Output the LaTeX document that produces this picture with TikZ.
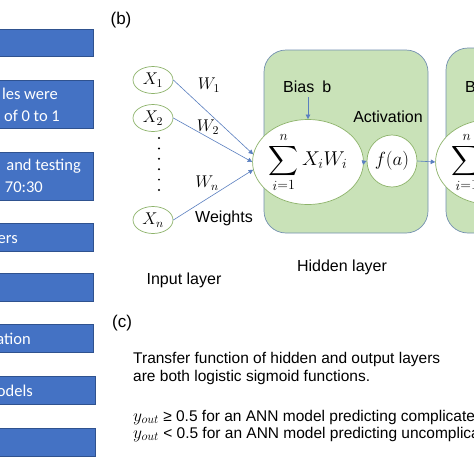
\documentclass[tikz,border=0pt]{standalone}
\usepackage{fix-cm}
\usepackage{amsmath}
\usepackage{fontspec}
\setmainfont{Liberation Sans}
\newfontfamily\calib{Carlito}
\usetikzlibrary{arrows.meta,shapes.geometric}
\definecolor{boxblue}{HTML}{4472C4}
\definecolor{boxedge}{HTML}{2F528F}
\definecolor{layergreen}{HTML}{C9E2B8}
\definecolor{layeredge}{HTML}{7390B0}
\definecolor{ellgreen}{HTML}{8DB36A}
\definecolor{arrowblue}{HTML}{5A7FC0}
\begin{document}
\begin{tikzpicture}[x=1pt,y=-1pt,
  stepbox/.style={fill=boxblue, draw=boxedge, line width=0.8pt},
  boxtext/.style={text=white, font=\calib\fontsize{16.5}{20}\selectfont, inner sep=0pt},
  layer/.style={fill=layergreen, draw=layeredge, line width=0.7pt, rounded corners=22pt, inner sep=0pt},
  neuron/.style={ellipse, draw=ellgreen, fill=white, line width=0.7pt, inner sep=0pt},
  arr/.style={draw=arrowblue, line width=0.6pt, -{Triangle[length=4.5pt,width=4.5pt]}},
  lbl/.style={font=\fontsize{16}{19}\selectfont, inner sep=0pt},
  ctext/.style={font=\fontsize{15.5}{18}\selectfont, inner sep=0pt, anchor=base west},
  mth/.style={font=\fontsize{17}{20}\selectfont},
  summ/.style={font=\fontsize{20}{24}\selectfont},
]
\useasboundingbox (0,0) rectangle (474,474);
\clip (0,0) rectangle (474,474);
\fill[white] (0,0) rectangle (474,474);

% ---- panel (a): flow boxes (cut off at the left) ----
\path[stepbox] (-5,29) rectangle (93,56);
\path[stepbox] (-5,80) rectangle (93,128);
\path[stepbox] (-5,152) rectangle (93,200);
\path[stepbox] (-5,223) rectangle (93,251);
\path[stepbox] (-5,273) rectangle (93,301);
\path[stepbox] (-5,324) rectangle (93,352);
\path[stepbox] (-5,376) rectangle (95,404);
\path[stepbox] (-5,428) rectangle (95,456);

\node[boxtext, anchor=base east] (a2a) at (58,99) {les were};
\node[boxtext, anchor=base east] (a2b) at (60,121) {of 0 to 1};
\node[boxtext, anchor=base east] (a3a) at (81,170) {and testing};
\node[boxtext, anchor=base east] (a3b) at (43,192) {70:30};
\node[boxtext, anchor=base east] (a4) at (18,243) {ers};
\node[boxtext, anchor=base east] (a6) at (31,344) {ation};
\node[boxtext, anchor=base east] (a7) at (33,396) {odels};

% ---- panel (b) ----
\node[font=\fontsize{17}{20}\selectfont, inner sep=0pt] (blabel) at (121,20) {(b)};

\node[layer, minimum width=164pt, minimum height=183pt] (hidden) at (346,141.5) {};
\node[layer, minimum width=164pt, minimum height=185pt] (outlayer) at (528,140.5) {};

\node[neuron, minimum width=40pt, minimum height=27pt, mth] (x1) at (153,80) {$X_1$};
\node[neuron, minimum width=40pt, minimum height=27pt, mth] (x2) at (153,118) {$X_2$};
\node[neuron, minimum width=40pt, minimum height=27pt, mth] (xn) at (153,220) {$X_n$};
\foreach \yy [count=\k] in {138,148.4,158.8,169.2,179.6,190} {
  \fill (159,\yy) circle (1.1pt) coordinate (dot\k);
}

\node[neuron, minimum width=90pt, minimum height=80pt, summ] (sum) at (308,162) {$\displaystyle\sum_{i=1}^{n} X_iW_i$};
\node[neuron, minimum width=50pt, minimum height=52pt, font=\fontsize{19}{22}\selectfont] (act) at (392,161) {$f(a)$};
\node[neuron, minimum width=90pt, minimum height=80pt, summ] (sum2) at (491,162) {$\displaystyle\sum_{i=1}^{n} X_iW_i$};

\draw[arr] (x1.east) -- (sum.172);
\draw[arr] (x2.east) -- (sum.180);
\draw[arr] (xn.east) -- (sum.188);

\node[mth, inner sep=0pt] (w1) at (209,85) {$W_1$};
\node[mth, inner sep=0pt] (w2) at (208,127) {$W_2$};
\node[mth, inner sep=0pt] (wn) at (207,183) {$W_n$};
\node[lbl] (weights) at (224,218) {Weights};
\node[lbl] (inputlayer) at (184,280) {Input layer};

\node[lbl, anchor=west] (bias) at (283,87) {Bias\hspace{0.5em}b};
\coordinate (biasfoot) at (308,97);
\draw[arr] (biasfoot) -- (sum.north);
\node[lbl] (activation) at (388,117) {Activation};
\draw[arr] (sum.east) -- (act.west);
\draw[arr] (act.east) -- (sum2.west);
\node[lbl] (hiddenlabel) at (342,267) {Hidden layer};

\node[lbl, anchor=west] (bias2) at (465,87) {Bias\hspace{0.5em}b};

% ---- panel (c) ----
\node[font=\fontsize{17}{20}\selectfont, inner sep=0pt] (clabel) at (122,323) {(c)};
\node[ctext] (c1) at (133,363) {Transfer function of hidden and output layers};
\node[ctext] (c2) at (133,381) {are both logistic sigmoid functions.};
\node[ctext] (c3) at (133,421) {{\fontsize{17.5}{20}\selectfont$y_{out}$} ≥ 0.5 for an ANN model predicting complicated};
\node[ctext] (c4) at (133,438) {{\fontsize{17.5}{20}\selectfont$y_{out}$} < 0.5 for an ANN model predicting uncomplicated};
\end{tikzpicture}
\end{document}
